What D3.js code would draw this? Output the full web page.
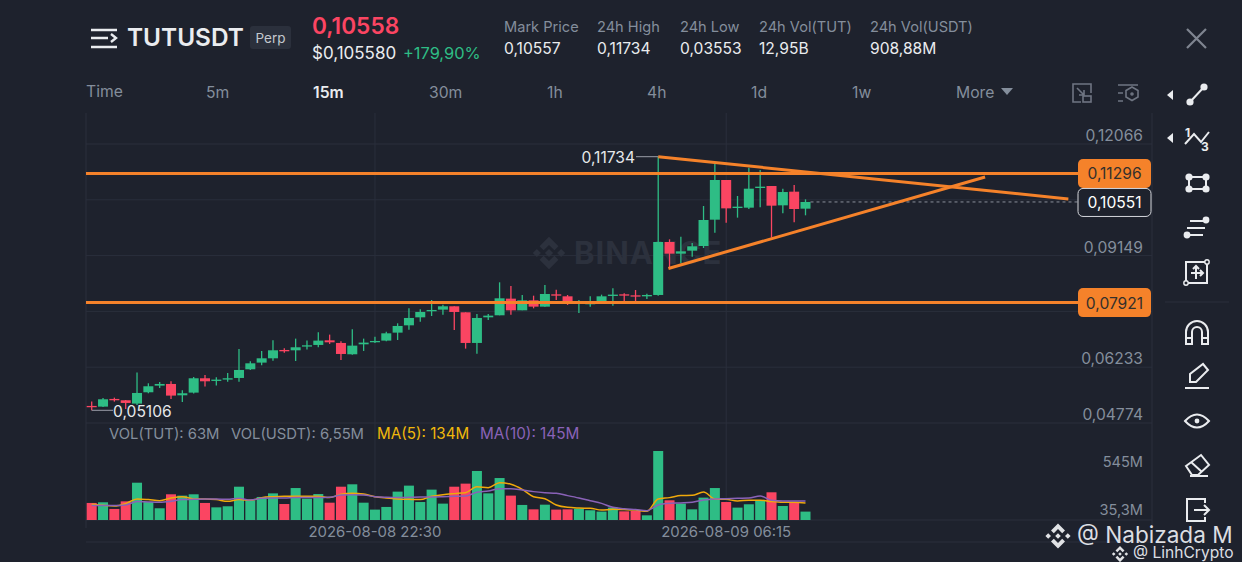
<!DOCTYPE html>
<html>
<head>
<meta charset="utf-8">
<script src="https://cdn.jsdelivr.net/npm/d3@7"></script>
<style>
html, body { margin: 0; padding: 0; background: #1e222d; overflow: hidden; }
svg { display: block; }
text { font-family: Inter, "Noto Sans", sans-serif; }
</style>
</head>
<body>
<div id="chart"></div>
<script>
// candles
const opens = [0.05220,0.05202,0.05403,0.05368,0.05281,0.05577,0.05751,0.05794,0.05498,0.05568,0.05943,0.05873,0.05925,0.05951,0.06178,0.06352,0.06465,0.06683,0.06674,0.06779,0.06814,0.06935,0.06866,0.06570,0.06831,0.06901,0.06927,0.07136,0.07327,0.07536,0.07702,0.07737,0.07824,0.07667,0.06866,0.07536,0.07589,0.08024,0.07719,0.07980,0.07815,0.08137,0.08085,0.07946,0.07893,0.07911,0.08094,0.08137,0.08111,0.08085,0.08120,0.09505,0.09200,0.09278,0.09400,0.10088,0.11125,0.10393,0.10402,0.10916,0.10968,0.10463,0.10820,0.10376];
const highs = [0.05333,0.05429,0.05437,0.05376,0.06091,0.05812,0.05847,0.05864,0.05629,0.05977,0.06030,0.05969,0.06082,0.06709,0.06387,0.06657,0.06935,0.06726,0.06979,0.06927,0.07145,0.07084,0.06909,0.07223,0.06979,0.07031,0.07162,0.07380,0.07772,0.07746,0.07989,0.07867,0.07824,0.07667,0.07624,0.07623,0.08451,0.08355,0.08120,0.08102,0.08381,0.08259,0.08120,0.07989,0.08085,0.08129,0.08294,0.08163,0.08250,0.08155,0.11734,0.09574,0.09644,0.09479,0.10445,0.11543,0.11125,0.10707,0.11447,0.11386,0.10968,0.10898,0.10994,0.10620];
const lows = [0.05106,0.05195,0.05333,0.05141,0.05246,0.05551,0.05690,0.05403,0.05324,0.05542,0.05725,0.05751,0.05855,0.05855,0.06160,0.06282,0.06404,0.06613,0.06395,0.06692,0.06753,0.06840,0.06422,0.06561,0.06657,0.06866,0.06909,0.06944,0.07214,0.07423,0.07571,0.07606,0.07205,0.06718,0.06587,0.07467,0.07589,0.07606,0.07719,0.07771,0.07815,0.07989,0.07859,0.07650,0.07815,0.07911,0.07841,0.07937,0.07937,0.08015,0.08102,0.08808,0.08947,0.09121,0.09348,0.09749,0.10010,0.10141,0.10367,0.10411,0.09618,0.10254,0.10019,0.10202];
const closes = [0.05193,0.05394,0.05368,0.05298,0.05559,0.05734,0.05794,0.05490,0.05551,0.05943,0.05864,0.05908,0.05943,0.06160,0.06334,0.06465,0.06674,0.06648,0.06753,0.06805,0.06927,0.06883,0.06578,0.06796,0.06875,0.06918,0.07118,0.07310,0.07519,0.07676,0.07728,0.07824,0.07676,0.06866,0.07519,0.07580,0.08033,0.07719,0.07980,0.07815,0.08146,0.08102,0.07928,0.07963,0.07911,0.08085,0.08129,0.08111,0.08085,0.08120,0.09505,0.09200,0.09261,0.09392,0.10080,0.11125,0.10384,0.10428,0.10898,0.10951,0.10454,0.10811,0.10367,0.10551];

// volume in millions
const volumes = [128,133,83,140,280,135,88,193,183,193,128,95,103,250,148,173,200,120,240,160,195,130,250,268,130,78,98,213,258,135,228,123,250,273,368,200,315,183,113,80,115,78,80,85,73,63,93,65,68,35,518,148,123,80,168,240,135,93,118,150,208,105,128,63];
const ma5 = [118,110,105,123,158,153,145,165,175,158,158,153,140,153,148,168,175,178,178,178,178,168,193,200,195,175,165,158,155,153,178,190,198,205,250,243,280,268,230,175,160,113,95,90,88,75,80,78,75,65,158,168,183,185,210,158,155,143,148,148,138,133,133,128];
const ma10 = [108,108,108,113,138,135,133,140,153,155,158,158,155,163,150,163,165,165,168,168,168,170,188,190,188,175,170,168,170,173,173,175,178,180,208,218,235,235,225,213,205,200,183,165,145,125,95,85,78,70,113,125,128,133,150,158,160,163,165,180,148,143,143,143];

const priceTicks = [0.12066, 0.10607, 0.09149, 0.07691, 0.06233, 0.04774];
const hiddenTicks = [0.10607, 0.07691]; // covered by the tags on the axis
const volTicks = [545, 35.3];
const timeTicks = [[25, "2026-08-08 22:30"], [56, "2026-08-09 06:15"]];

const levels = [0.11296, 0.07921];
const lastPrice = 0.10551;
const highMark = [50, 0.11734];
const lowMark = [0, 0.05106];
// drawn trend lines as [bar, price]
const upperTrend = [[50, 0.11734], [86.2, 0.10629]];
const lowerTrend = [[50.9, 0.08812], [78.85, 0.11204]];

const periods = ["Time", "5m", "15m", "30m", "1h", "4h", "1d", "1w", "More"];
const periodX = [86, 206, 313, 429, 547, 647, 751, 852, 956];
const statNames = ["Mark Price", "24h High", "24h Low", "24h Vol(TUT)", "24h Vol(USDT)"];
const statValues = ["0,10557", "0,11734", "0,03553", "12,95B", "908,88M"];
const statX = [504, 597, 680, 759, 870];

const green = "#2ebd85", red = "#fb4562", orange = "#f5822a";
const gridCol = "#2a2f3c", grey = "#848e9c";
const numSize = 15.6;

const svg = d3.select("#chart").append("svg").attr("width", 1242).attr("height", 562);
svg.append("rect").attr("width", 1242).attr("height", 562).attr("fill", "#1e222d");

const x = d3.scaleLinear().domain([0, 63]).range([91.7, 805.5]);
const y = d3.scaleLinear().domain([0.12066, 0.04774]).range([144, 423]);
const yVol = d3.scaleLinear().domain([0, 518]).range([520, 451]);
const yVolLabel = d3.scaleLinear().domain([35.3, 545]).range([515, 467]);
const fmt = v => d3.format(".5f")(v).replace(".", ",");

// grid
svg.selectAll(".hgrid").data(priceTicks).enter().append("line")
    .attr("x1", 86).attr("x2", 1152)
    .attr("y1", d => y(d)).attr("y2", d => y(d))
    .attr("stroke", gridCol);
svg.selectAll(".vgrid").data(timeTicks).enter().append("line")
    .attr("x1", d => x(d[0])).attr("x2", d => x(d[0]))
    .attr("y1", 113).attr("y2", 520)
    .attr("stroke", gridCol);
[[86, 113, 86, 528], [1152, 113, 1152, 542], [86, 520, 1152, 520], [86, 542, 1152, 542]].forEach(l => {
    svg.append("line").attr("x1", l[0]).attr("y1", l[1]).attr("x2", l[2]).attr("y2", l[3]).attr("stroke", gridCol);
});

// faded watermark
const wm = svg.append("g").attr("fill", "#2c313d");
wm.append("text").attr("x", 574).attr("y", 264).attr("font-size", 31).attr("font-weight", 700).attr("letter-spacing", 1).text("BINANCE");
wm.append("path").attr("transform", "translate(549,253) scale(1.35)")
    .attr("d", "M0,-12L7,-5L4,-2L0,-6L-4,-2L-7,-5ZM0,12L7,5L4,2L0,6L-4,2L-7,5ZM-12,0L-9,-3L-6,0L-9,3ZM12,0L9,-3L6,0L9,3ZM0,-3L3,0L0,3L-3,0Z");

// price tick labels
svg.selectAll(".plabel").data(priceTicks.filter(d => !hiddenTicks.includes(d))).enter().append("text")
    .attr("x", 1143).attr("y", d => y(d) - 3)
    .attr("text-anchor", "end").attr("font-size", numSize).attr("fill", grey)
    .text(fmt);

// candles
const idx = d3.range(opens.length);
const col = i => closes[i] >= opens[i] ? green : red;
svg.selectAll(".wick").data(idx).enter().append("line")
    .attr("x1", i => x(i)).attr("x2", i => x(i))
    .attr("y1", i => y(highs[i])).attr("y2", i => y(lows[i]))
    .attr("stroke", col).attr("stroke-width", 1.3);
svg.selectAll(".body").data(idx).enter().append("rect")
    .attr("x", i => x(i) - 5).attr("width", 10)
    .attr("y", i => y(Math.max(opens[i], closes[i])))
    .attr("height", i => Math.max(1.3, Math.abs(y(opens[i]) - y(closes[i]))))
    .attr("fill", col);

// volume
svg.selectAll(".vol").data(idx).enter().append("rect")
    .attr("x", i => x(i) - 5).attr("width", 10)
    .attr("y", i => yVol(volumes[i]))
    .attr("height", i => 520 - yVol(volumes[i]))
    .attr("fill", col);
const maLine = d3.line().x((d, i) => x(i)).y(d => yVol(d)).curve(d3.curveMonotoneX);
svg.append("path").datum(ma5).attr("d", maLine).attr("fill", "none").attr("stroke", "#f0a90b").attr("stroke-width", 1.5);
svg.append("path").datum(ma10).attr("d", maLine).attr("fill", "none").attr("stroke", "#8a62b8").attr("stroke-width", 1.5);

svg.selectAll(".vlabel").data(volTicks).enter().append("text")
    .attr("x", 1143).attr("y", d => yVolLabel(d))
    .attr("text-anchor", "end").attr("font-size", 14.6).attr("fill", grey)
    .text(d => String(d).replace(".", ",") + "M");

// time labels
svg.selectAll(".tlabel").data(timeTicks).enter().append("text")
    .attr("x", d => x(d[0])).attr("y", 537)
    .attr("text-anchor", "middle").attr("font-size", 14.9).attr("fill", grey)
    .text(d => d[1]);

// last price line
svg.append("line").attr("x1", x(63) + 5).attr("x2", 1078)
    .attr("y1", y(lastPrice)).attr("y2", y(lastPrice))
    .attr("stroke", "#8a8f9a").attr("stroke-dasharray", "3,3");

// drawn levels and triangle
svg.selectAll(".level").data(levels).enter().append("line")
    .attr("x1", 86).attr("x2", 1080)
    .attr("y1", d => y(d)).attr("y2", d => y(d))
    .attr("stroke", orange).attr("stroke-width", 3);
const trend = d3.line().x(d => x(d[0])).y(d => y(d[1]));
[upperTrend, lowerTrend].forEach(t => {
    svg.append("path").datum(t).attr("d", trend).attr("fill", "none")
        .attr("stroke", orange).attr("stroke-width", 3);
});

// tags on the price axis
svg.selectAll(".tag").data(levels).enter().append("rect")
    .attr("x", 1078).attr("width", 73).attr("y", d => y(d) - 14.5).attr("height", 29)
    .attr("rx", 5).attr("fill", orange);
svg.selectAll(".tagt").data(levels).enter().append("text")
    .attr("x", 1114.5).attr("y", d => y(d) + 6)
    .attr("text-anchor", "middle").attr("font-size", numSize).attr("fill", "#33302c")
    .text(fmt);
svg.append("rect").attr("x", 1078).attr("width", 73).attr("y", y(lastPrice) - 13.5).attr("height", 28)
    .attr("rx", 5).attr("fill", "#1e222d").attr("stroke", "#d5d7dc");
svg.append("text").attr("x", 1114.5).attr("y", y(lastPrice) + 6)
    .attr("text-anchor", "middle").attr("font-size", numSize).attr("fill", "#fff").text(fmt(lastPrice));

// high and low markers
svg.append("line").attr("x1", 636).attr("x2", x(highMark[0]))
    .attr("y1", y(highMark[1])).attr("y2", y(highMark[1])).attr("stroke", "#9a9ea8");
svg.append("text").attr("x", 635).attr("y", y(highMark[1]) + 6)
    .attr("text-anchor", "end").attr("font-size", numSize).attr("fill", "#e6e8ea").text(fmt(highMark[1]));
svg.append("line").attr("x1", x(lowMark[0])).attr("x2", 113)
    .attr("y1", y(lowMark[1])).attr("y2", y(lowMark[1])).attr("stroke", "#9a9ea8");
svg.append("text").attr("x", 113).attr("y", y(lowMark[1]) + 6.5)
    .attr("font-size", numSize).attr("fill", "#e6e8ea").text(fmt(lowMark[1]));

// volume legend
[["VOL(TUT): 63M", 109, grey, 14.8], ["VOL(USDT): 6,55M", 231, grey, 14.8], ["MA(5): 134M", 377, "#f0b90b", 15.2], ["MA(10): 145M", 480, "#8a62b8", 15.3]].forEach(d => {
    svg.append("text").attr("x", d[1]).attr("y", 439).attr("font-size", d[3]).attr("fill", d[2]).text(d[0]);
});

// header
svg.append("path").attr("d", "M91,30H117M91,38H108M91,47H117M111,34L116,38L111,42")
    .attr("fill", "none").attr("stroke", "#eaecef").attr("stroke-width", 2.4);
svg.append("text").attr("x", 127).attr("y", 46).attr("font-size", 24.4).attr("font-weight", 600).attr("fill", "#eaecef").text("TUTUSDT");
svg.append("rect").attr("x", 250).attr("y", 26).attr("width", 41).attr("height", 23).attr("rx", 3).attr("fill", "#2b303c");
svg.append("text").attr("x", 270.5).attr("y", 43).attr("text-anchor", "middle").attr("font-size", 13.5).attr("fill", "#c4c8ce").text("Perp");
svg.append("text").attr("x", 312).attr("y", 34).attr("font-size", 22.7).attr("font-weight", 600).attr("fill", red).text("0,10558");
svg.append("text").attr("x", 312).attr("y", 59).attr("font-size", 17).attr("fill", "#eaecef").text("$0,105580");
svg.append("text").attr("x", 403).attr("y", 59).attr("font-size", 16.4).attr("fill", green).text("+179,90%");

statNames.forEach((s, i) => {
    svg.append("text").attr("x", statX[i]).attr("y", 32).attr("font-size", 14.6).attr("fill", grey).text(s);
    svg.append("text").attr("x", statX[i]).attr("y", 54).attr("font-size", numSize).attr("fill", "#eaecef").text(statValues[i]);
});
svg.append("path").attr("d", "M1187,29L1206,48M1206,29L1187,48").attr("stroke", "#7f8590").attr("stroke-width", 2.2);

// period row
periods.forEach((p, i) => {
    svg.append("text").attr("x", periodX[i]).attr("y", p === "Time" ? 97 : 98)
        .attr("font-size", 15.7).attr("font-weight", p === "15m" ? 600 : 400)
        .attr("fill", p === "15m" ? "#eaecef" : grey).text(p);
});
svg.append("path").attr("d", "M1001,88H1013L1007,95Z").attr("fill", grey);

// small icons in the period row
const iconGrey = svg.append("g").attr("fill", "none").attr("stroke", "#6f7582").attr("stroke-width", 1.6);
iconGrey.append("path").attr("d", "M1081,102H1073V84H1091V93M1077,88L1084,95M1084,90V95H1079");
iconGrey.append("rect").attr("x", 1083).attr("y", 96).attr("width", 8).attr("height", 6);
iconGrey.append("path").attr("d", "M1118,85H1138M1118,93H1123M1118,101H1123");
iconGrey.append("path").attr("d", "M1132,87L1138,90.5V97L1132,100.5L1126,97V90.5Z");
iconGrey.append("circle").attr("cx", 1132).attr("cy", 94).attr("r", 1);

// right toolbar
const tb = svg.append("g").attr("fill", "none").attr("stroke", "#eaecef").attr("stroke-width", 2);
const solid = "#eaecef";
svg.append("path").attr("d", "M1173,90V100L1167,95Z").attr("fill", solid);
svg.append("path").attr("d", "M1173,133V143L1167,138Z").attr("fill", solid);
tb.append("path").attr("d", "M1190,102L1204,87");
[[1190, 102], [1204, 87]].forEach(p => svg.append("circle").attr("cx", p[0]).attr("cy", p[1]).attr("r", 3.6).attr("fill", solid));
tb.append("path").attr("d", "M1185,144L1194,134L1201,142L1209,132");
svg.append("text").attr("x", 1185).attr("y", 137).attr("font-size", 12).attr("font-weight", 700).attr("fill", solid).text("1");
svg.append("text").attr("x", 1201).attr("y", 151).attr("font-size", 12).attr("font-weight", 700).attr("fill", solid).text("3");
tb.append("rect").attr("x", 1189).attr("y", 177).attr("width", 17).attr("height", 12);
[[1189, 177], [1206, 177], [1189, 189], [1206, 189]].forEach(p => svg.append("circle").attr("cx", p[0]).attr("cy", p[1]).attr("r", 3.6).attr("fill", solid));
tb.append("path").attr("d", "M1190,221H1204M1187,228H1205M1189,235H1203");
svg.append("circle").attr("cx", 1206).attr("cy", 220).attr("r", 3.4).attr("fill", solid);
svg.append("circle").attr("cx", 1187).attr("cy", 235).attr("r", 3.4).attr("fill", solid);
tb.append("rect").attr("x", 1186).attr("y", 262).attr("width", 21).attr("height", 21);
tb.append("path").attr("d", "M1196,266V279M1191,273H1203M1200,270L1203,273L1200,276M1193,269L1196,266L1199,269");
[[1186, 283], [1207, 262]].forEach(p => svg.append("circle").attr("cx", p[0]).attr("cy", p[1]).attr("r", 2.2).attr("fill", "#1e222d").attr("stroke", solid).attr("stroke-width", 1.4));
svg.append("line").attr("x1", 1165).attr("x2", 1229).attr("y1", 302).attr("y2", 302).attr("stroke", gridCol);
tb.append("path").attr("d", "M1186,344V332A11,11 0 0 1 1208,332V344H1202V332A5,5 0 0 0 1192,332V344ZM1186,338H1192M1202,338H1208");
tb.append("path").attr("d", "M1190,380V374L1203,364L1208,370L1196,382H1190ZM1185,388H1209");
tb.append("path").attr("d", "M1185,421Q1197,408 1209,421Q1197,434 1185,421Z");
svg.append("circle").attr("cx", 1197).attr("cy", 421).attr("r", 2.4).attr("fill", solid);
tb.append("path").attr("d", "M1186,466L1201,455L1209,465L1198,475H1192ZM1191,462L1202,472M1190,476H1208");
tb.append("path").attr("d", "M1205,503V499H1187V521H1205V517M1194,510H1209M1204,505L1209,510L1204,515");

// overlaid credit text
const logo = "M0,-9L5,-4L3,-2L0,-5L-3,-2L-5,-4ZM0,9L5,4L3,2L0,5L-3,2L-5,4ZM-9,0L-7,-2L-5,0L-7,2ZM9,0L7,-2L5,0L7,2ZM0,-2L2,0L0,2L-2,0Z";
svg.append("path").attr("d", logo).attr("transform", "translate(1058,536) scale(1.4)").attr("fill", "#e0e2e5");
svg.append("text").attr("x", 1077).attr("y", 543).attr("font-family", "Noto Sans").attr("font-size", 22.6).attr("fill", "#dcdee2").text("@ Nabizada M");
svg.append("path").attr("d", logo).attr("transform", "translate(1120,554) scale(0.9)").attr("fill", "#e0e2e5");
svg.append("text").attr("x", 1133).attr("y", 558).attr("font-family", "Noto Sans").attr("font-size", 15.6).attr("fill", "#dcdee2").text("@ LinhCrypto");
</script>
</body>
</html>
